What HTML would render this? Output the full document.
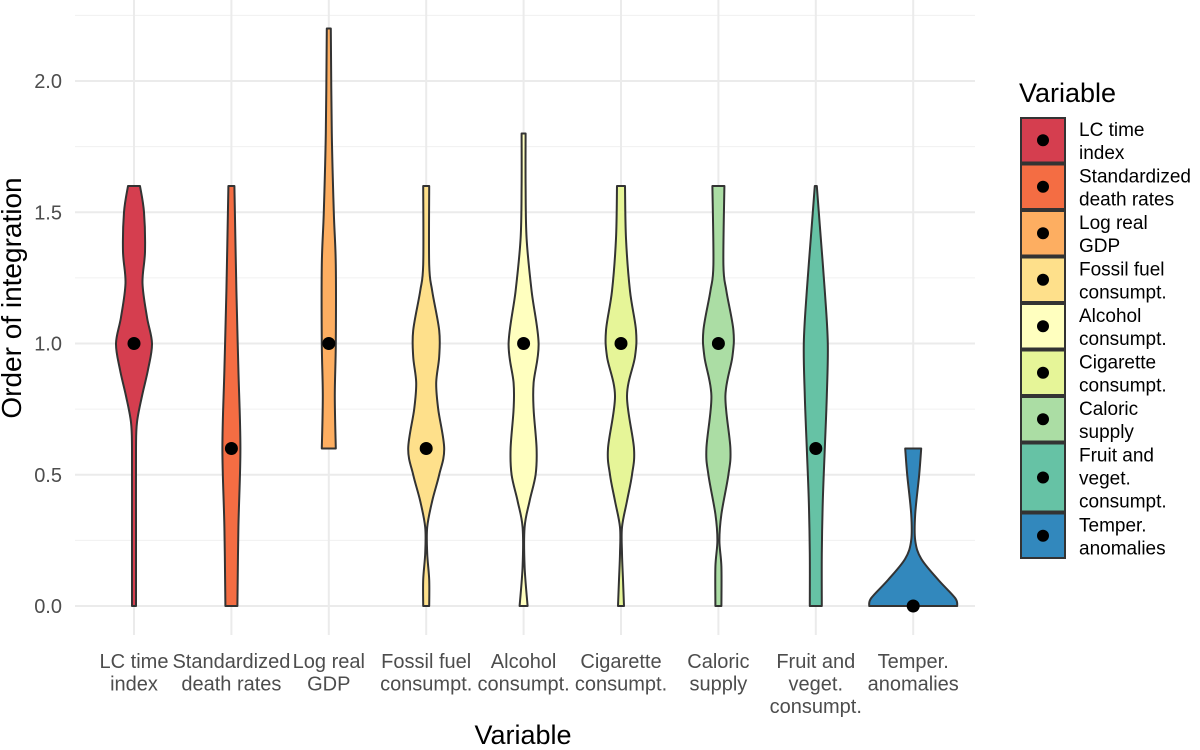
<!DOCTYPE html>
<html><head><meta charset="utf-8"><style>
body{margin:0;background:#fff}
svg text{font-family:"Liberation Sans",Arial,sans-serif}
</style></head><body>
<svg id="chart" width="1200" height="745" xmlns="http://www.w3.org/2000/svg">
<g id="grid"></g>
<g id="violins"></g>
<g id="axes"></g>
<text x="523" y="744" font-size="27" fill="#000" text-anchor="middle">Variable</text>
<text transform="translate(21,298) rotate(-90)" font-size="28" fill="#000" text-anchor="middle">Order of integration</text>
<g id="legend">
<text x="1019" y="102" font-size="27" fill="#000">Variable</text>
</g>
</svg>
<script>
const categories=[["LC time","index"],["Standardized","death rates"],["Log real","GDP"],["Fossil fuel","consumpt."],["Alcohol","consumpt."],["Cigarette","consumpt."],["Caloric","supply"],["Fruit and","veget.","consumpt."],["Temper.","anomalies"]];
const medians=[1,0.6,1,0.6,1,1,1,0.6,0];
const colors=["#D53E4F","#F46D43","#FDAE61","#FEE08B","#FFFFBF","#E6F598","#ABDDA4","#66C2A5","#3288BD"];
const yTicks=[0,0.5,1.0,1.5,2.0];
const yTickLabels=["0.0","0.5","1.0","1.5","2.0"];
// density profiles: [value, relative half-width]
const dens0=[[1.6,6],[1.5,10],[1.35,11],[1.23,8.5],[1.1,13],[1.0,18],[0.9,14],[0.8,8],[0.7,3],[0.6,2],[0.3,2],[0,2]];
const dens1=[[1.6,3],[1.2,5],[0.9,7],[0.6,9],[0.3,7],[0,6]];
const dens2=[[2.2,2],[1.8,3],[1.5,5],[1.3,7],[1.0,7],[0.8,6],[0.6,7]];
const dens3=[[1.6,3],[1.3,3],[1.2,6],[1.05,13],[0.95,13],[0.85,10],[0.75,12],[0.6,18],[0.5,13],[0.4,6],[0.3,1],[0.2,1],[0.1,3],[0,3]];
const dens4=[[1.8,2],[1.6,2],[1.4,3],[1.2,8],[1.0,15],[0.85,10],[0.75,10],[0.6,13],[0.5,12],[0.4,6],[0.3,1],[0.15,1],[0,4]];
const dens5=[[1.6,4],[1.4,5],[1.2,9],[1.05,15],[0.95,14],[0.8,6],[0.6,13],[0.5,11],[0.4,6],[0.3,1],[0.2,1],[0.1,2],[0,3]];
const dens6=[[1.6,6],[1.3,5],[1.2,8],[1.05,15],[0.95,14],[0.8,7],[0.6,12],[0.5,10],[0.35,3],[0.25,1],[0.15,3],[0,3]];
const dens7=[[1.6,1],[1.45,4],[1.2,9],[1.0,12],[0.8,11],[0.6,9],[0.4,7],[0.2,6],[0,6]];
const dens8=[[0.6,8],[0.5,6],[0.35,2],[0.25,2],[0.18,8],[0.1,25],[0.03,42],[0,44]];
const densities=[dens0,dens1,dens2,dens3,dens4,dens5,dens6,dens7,dens8];

const NS="http://www.w3.org/2000/svg";
const plotL=75,plotR=975,plotT=0,plotB=635;
const y0=606,yUnit=262.5;
const yS=v=>y0-v*yUnit;
const x0=134,xStep=97.4;
const xS=i=>x0+i*xStep;
function mk(tag,attrs,parent){const e=document.createElementNS(NS,tag);for(const k in attrs)e.setAttribute(k,attrs[k]);parent.appendChild(e);return e;}
const grid=document.getElementById('grid'),axes=document.getElementById('axes'),vg=document.getElementById('violins'),lg=document.getElementById('legend');
for(let i=0;i<yTicks.length;i++){const m=yTicks[i]+0.25;if(yS(m)>plotT){const l=mk('line',{x1:plotL,x2:plotR,y1:yS(m),y2:yS(m),stroke:'#f0f0f0','stroke-width':1},grid);}}
yTicks.forEach((t,i)=>{
 const l=mk('line',{x1:plotL,x2:plotR,y1:yS(t),y2:yS(t),stroke:'#ebebeb','stroke-width':2},grid);
 
 const tx=mk('text',{x:62,y:yS(t)+7,'font-size':20,fill:'#4d4d4d','text-anchor':'end'},axes);tx.textContent=yTickLabels[i];
 
});
categories.forEach((c,i)=>{
 const l=mk('line',{x1:xS(i),x2:xS(i),y1:plotT,y2:plotB,stroke:'#ebebeb','stroke-width':2},grid);
 
 const tx=mk('text',{x:xS(i),y:668,'font-size':20,fill:'#4d4d4d','text-anchor':'middle'},axes);
 
 c.forEach((line,j)=>{const ts=mk('tspan',{x:xS(i),dy:j?22.5:0},tx);ts.textContent=line;});
});
function smooth(pts){let d='';for(let i=0;i<pts.length-1;i++){const p0=pts[Math.max(0,i-1)],p1=pts[i],p2=pts[i+1],p3=pts[Math.min(pts.length-1,i+2)];
 const c1=[p1[0]+(p2[0]-p0[0])/6,p1[1]+(p2[1]-p0[1])/6],c2=[p2[0]-(p3[0]-p1[0])/6,p2[1]-(p3[1]-p1[1])/6];
 d+=` C${c1[0]},${c1[1]} ${c2[0]},${c2[1]} ${p2[0]},${p2[1]}`;}return d;}
let ky=117;
densities.forEach((dn,i)=>{
 const cx=xS(i);
 const right=dn.map(p=>[cx+p[1],yS(p[0])]);
 const left=dn.slice().reverse().map(p=>[cx-p[1],yS(p[0])]);
 let d=`M${cx-dn[0][1]},${yS(dn[0][0])} L${right[0][0]},${right[0][1]}`+smooth(right)+` L${left[0][0]},${left[0][1]}`+smooth(left)+' Z';
 const p=mk('path',{d:d,fill:colors[i],stroke:'#333','stroke-width':2,'stroke-linejoin':'round'},vg);
 
 const dot=mk('circle',{cx:cx,cy:yS(medians[i]),r:6.5,fill:'#000'},vg);
 
 const n=categories[i].length;
 const h=n>2?70:46.5;
 const r=mk('rect',{x:1021,y:ky+1,width:44,height:h-2,fill:colors[i],stroke:'#333','stroke-width':2},lg);
 
 const kd=mk('circle',{cx:1043,cy:ky+h/2,r:6,fill:'#000'},lg);
 
 const tx=mk('text',{x:1079,y:ky+h/2-(n-1)*11.5+7,'font-size':19,fill:'#000'},lg);
 
 categories[i].forEach((s,j)=>{const ts=mk('tspan',{x:1079,dy:j?23:0},tx);ts.textContent=s;});
 ky+=h;
});
</script>
</body></html>
